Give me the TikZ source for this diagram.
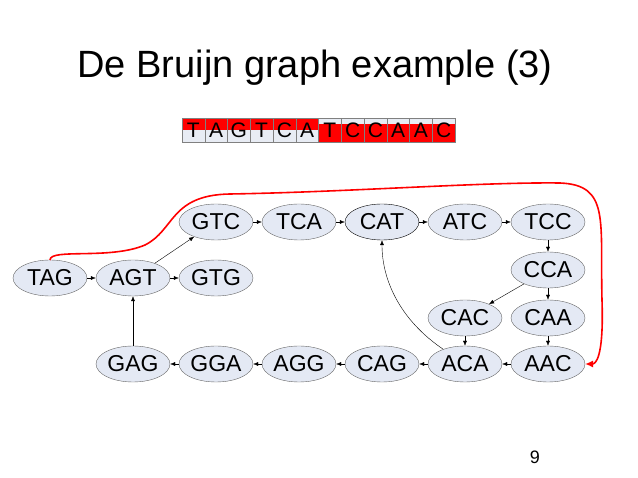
\documentclass[tikz,border=0pt]{standalone}
\usepackage{fontspec}
\setmainfont{Liberation Sans}
\usetikzlibrary{shapes.geometric,arrows.meta}
\definecolor{nodefill}{HTML}{E4E9F4}
\definecolor{cellfill}{HTML}{E8ECF4}
\begin{document}
\begin{tikzpicture}[x=1pt,y=-1pt,
  kmer/.style={ellipse,draw=gray!80!black,fill=nodefill,minimum width=74pt,minimum height=36pt,inner sep=0pt,font=\fontsize{23}{23}\selectfont},
  edge/.style={-{Latex[length=5pt,width=4pt]},black,thin},
  cell/.style={draw=gray,minimum width=22.75pt,minimum height=24pt,inner sep=0pt,font=\fontsize{21}{21}\selectfont}]
\useasboundingbox (0,0) rectangle (638,478);
\node[font=\fontsize{38}{38}\selectfont] (title) at (315,68) {De Bruijn graph example (3)};
% sequence
\foreach \c [count=\i] in {T,A,G,T,C,A,T,C,C,A,A,C}{
  \pgfmathsetmacro{\xx}{182+(\i-0.5)*22.75}
  \ifnum\i<7
    \fill[cellfill] (\xx-11.375,118) rectangle (\xx+11.375,142);
    \fill[red] (\xx-11.375,118) rectangle (\xx+11.375,130);
  \else
    \fill[red] (\xx-11.375,118) rectangle (\xx+11.375,142);
    \fill[cellfill] (\xx-11.375,118) rectangle (\xx+11.375,124);
  \fi
  \node[cell] (s\i) at (\xx,130) {\c};
}
\node[kmer] (TAG) at (50,278) {TAG};
\node[kmer] (AGT) at (133,278) {AGT};
\node[kmer] (GTG) at (216,278) {GTG};
\node[kmer] (GTC) at (216,222) {GTC};
\node[kmer] (TCA) at (299,222) {TCA};
\node[kmer,draw=black] (CAT) at (382,222) {CAT};
\node[kmer] (ATC) at (465,222) {ATC};
\node[kmer] (TCC) at (548,222) {TCC};
\node[kmer] (CCA) at (548,270) {CCA};
\node[kmer] (CAC) at (465,318) {CAC};
\node[kmer] (CAA) at (548,318) {CAA};
\node[kmer] (GAG) at (133,364) {GAG};
\node[kmer] (GGA) at (216,364) {GGA};
\node[kmer] (AGG) at (299,364) {AGG};
\node[kmer] (CAG) at (382,364) {CAG};
\node[kmer] (ACA) at (465,364) {ACA};
\node[kmer] (AAC) at (548,364) {AAC};
\draw[edge] (TAG) -- (AGT);
\draw[edge] (AGT) -- (GTG);
\draw[edge] (AGT) -- (GTC);
\draw[edge] (GAG) -- (AGT);
\draw[edge] (GTC) -- (TCA);
\draw[edge] (TCA) -- (CAT);
\draw[edge] (CAT) -- (ATC);
\draw[edge] (ATC) -- (TCC);
\draw[edge] (TCC) -- (CCA);
\draw[edge] (CCA) -- (CAA);
\draw[edge] (CAA) -- (AAC);
\draw[edge] (CCA) -- (CAC);
\draw[edge] (CAC) -- (ACA);
\draw[edge] (AAC) -- (ACA);
\draw[edge] (ACA) -- (CAG);
\draw[edge] (CAG) -- (AGG);
\draw[edge] (AGG) -- (GGA);
\draw[edge] (GGA) -- (GAG);
\draw[edge] (ACA) .. controls (400,320) and (382,280) .. (CAT);
\coordinate (tagtop) at (50,260);
\coordinate (aacr) at (585,364);
\draw[red,line width=1.6pt,-{Latex[length=8pt,width=7pt]}] (tagtop) .. controls (50,248) and (110,260) .. (145,245)
  .. controls (175,230) and (170,195) .. (230,194)
  .. controls (350,192) and (480,182) .. (560,183)
  .. controls (610,185) and (600,220) .. (602,300)
  .. controls (604,360) and (595,364) .. (aacr);
\node[font=\fontsize{18}{18}\selectfont] (pg) at (535,457) {9};
\end{tikzpicture}
\end{document}
